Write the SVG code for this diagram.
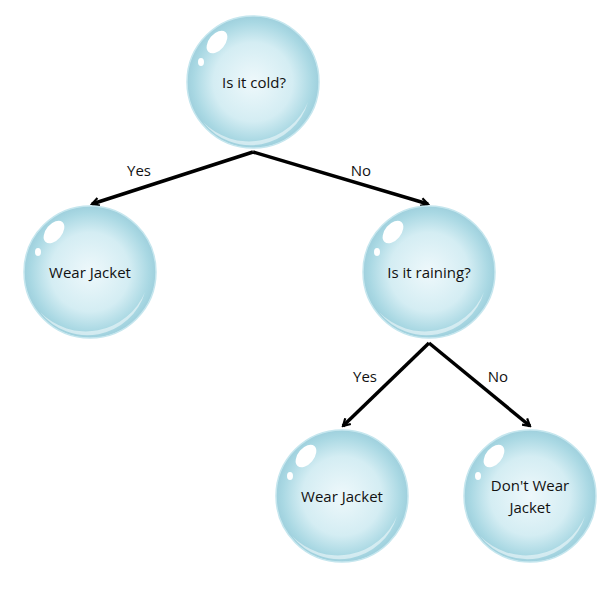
<svg xmlns="http://www.w3.org/2000/svg" width="607" height="614" viewBox="0 0 607 614">
<style>
.lbl{font-family:"Open Sans","Liberation Sans",sans-serif;font-size:15px;fill:#111;text-anchor:middle}
.edge{stroke:#000;stroke-width:3.5;fill:none;marker-end:url(#ah)}
</style>
<defs>
<radialGradient id="bg" cx="50%" cy="50%" r="50%">
<stop offset="0" stop-color="#eef8fb"/>
<stop offset="0.6" stop-color="#d4edf3"/>
<stop offset="0.9" stop-color="#a9d8e3"/>
<stop offset="1" stop-color="#9fd0dd"/>
</radialGradient>
<marker id="ah" markerWidth="10" markerHeight="10" refX="8" refY="5" orient="auto" markerUnits="userSpaceOnUse" viewBox="0 0 10 10">
<path d="M1,1 L8,5 L1,9" fill="none" stroke="#000" stroke-width="2.2"/>
</marker>
<g id="bub">
<circle r="66" fill="url(#bg)" stroke="#c5e6ee" stroke-width="1.5"/>
<path d="M-50,40 A64,64 0 0 0 55,20 A60,60 0 0 1 -50,40Z" fill="#fff" opacity="0.5"/>
<ellipse cx="-36" cy="-40" rx="8" ry="13" transform="rotate(40 -36 -40)" fill="#fff"/>
<ellipse cx="-52" cy="-20" rx="3" ry="4" fill="#fff"/>
</g>
</defs>
<g id="connectors">
<path class="edge" d="M253,152 L92,204"/>
<path class="edge" d="M253,152 L428,204"/>
<path class="edge" d="M429,343 L343,426"/>
<path class="edge" d="M429,343 L530,426"/>
<text class="lbl" x="139" y="176">Yes</text>
<text class="lbl" x="361" y="176">No</text>
<text class="lbl" x="365" y="382">Yes</text>
<text class="lbl" x="498" y="382">No</text>
</g>
<g id="n1"><use href="#bub" x="253" y="82"/><text class="lbl" x="254" y="88">Is it cold?</text></g>
<g id="n2"><use href="#bub" x="90" y="272"/><text class="lbl" x="90" y="278">Wear Jacket</text></g>
<g id="n3"><use href="#bub" x="429" y="272"/><text class="lbl" x="429" y="278">Is it raining?</text></g>
<g id="n4"><use href="#bub" x="342" y="496"/><text class="lbl" x="342" y="502">Wear Jacket</text></g>
<g id="n5"><use href="#bub" x="530" y="496"/><text class="lbl" x="530" y="491">Don't Wear</text><text class="lbl" x="530" y="513">Jacket</text></g>
</svg>
